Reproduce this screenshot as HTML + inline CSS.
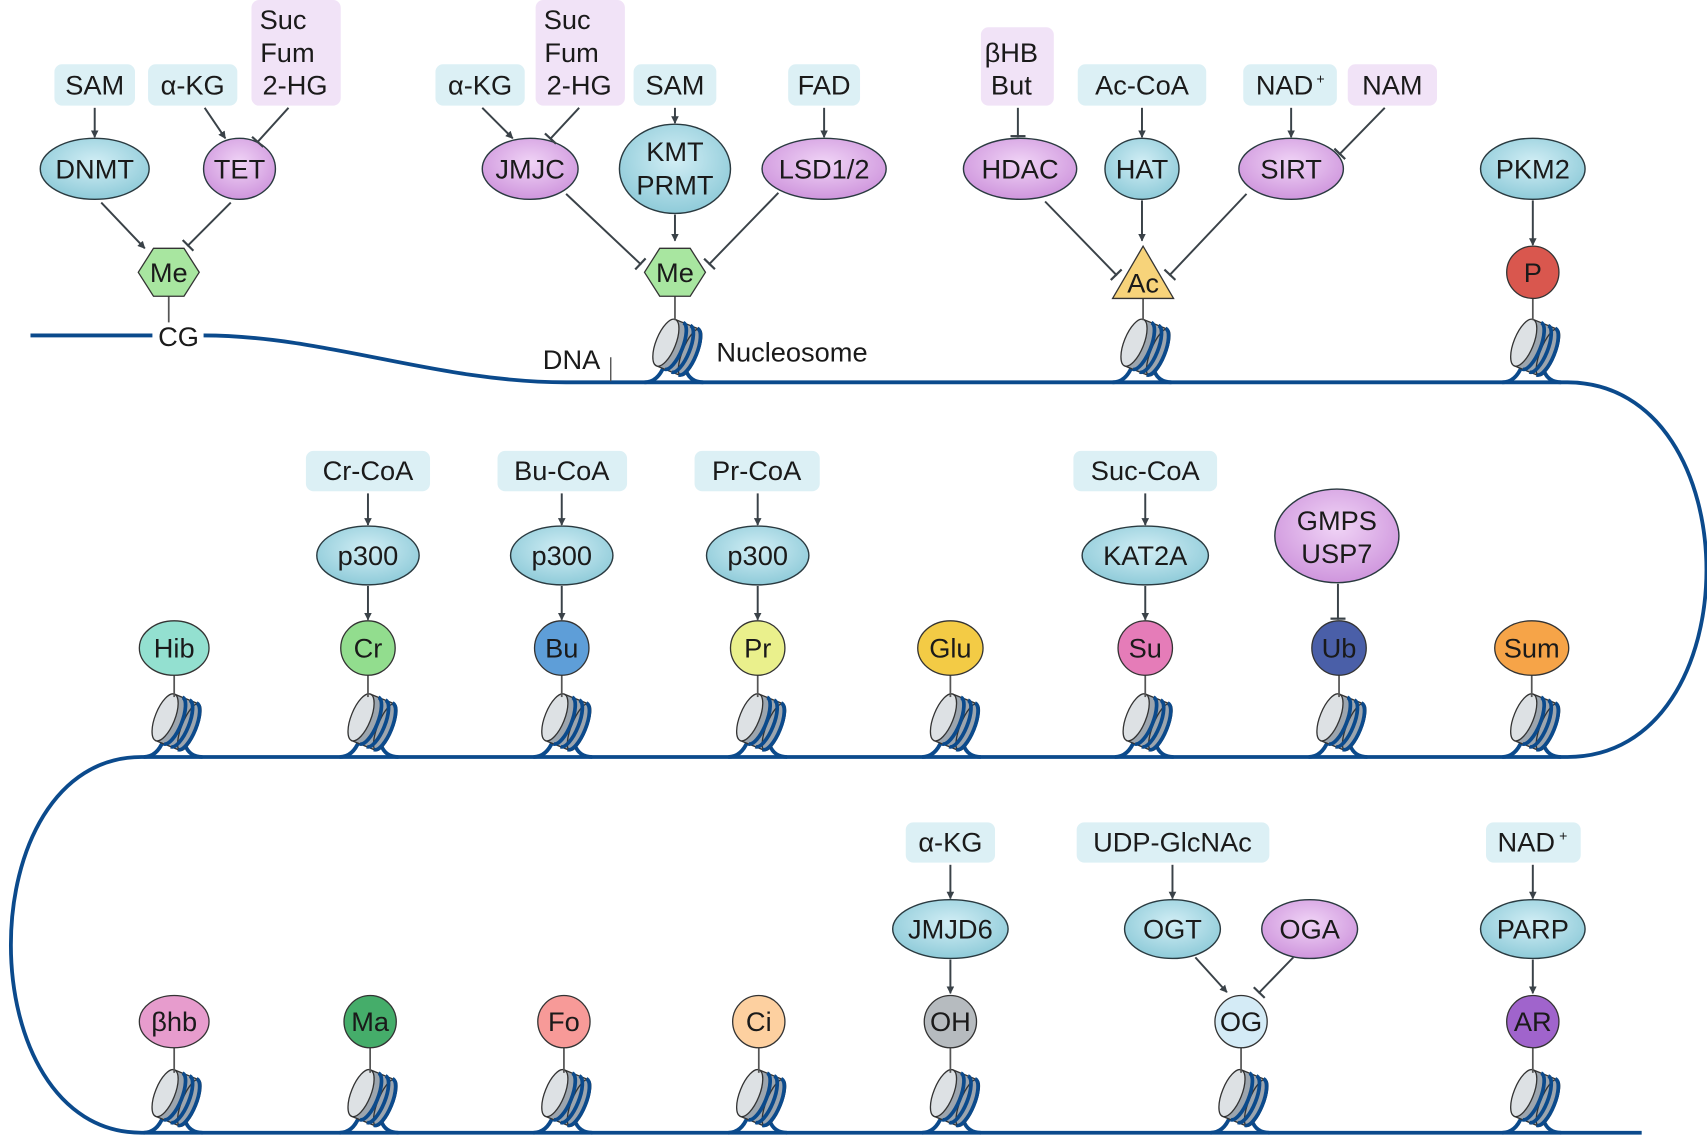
<!DOCTYPE html>
<html><head><meta charset="utf-8"><style>
html,body{margin:0;padding:0;background:#fff}
svg{display:block}
text{font-family:"Liberation Sans",sans-serif;font-size:25px;fill:#1a1a1a;text-anchor:middle;dominant-baseline:central}
.box{fill:#dcf0f5}
.pbox{fill:#f1e3f7}
.be{fill:url(#gb);stroke:#2a3a40;stroke-width:1.3}
.pe{fill:url(#gp);stroke:#2a3a40;stroke-width:1.3}
.ar{stroke:#3a4248;stroke-width:1.8;fill:none;marker-end:url(#arr)}
.in{stroke:#3a4248;stroke-width:1.8;fill:none;marker-end:url(#tee)}
.st{stroke:#555;stroke-width:1.6}
.dna{stroke:#0b4a8c;stroke-width:3.5;fill:none}
.mk{stroke:#333;stroke-width:1.2}
</style></head><body>
<svg width="1707" height="1136" viewBox="0 0 1568 1043" preserveAspectRatio="none" xmlns="http://www.w3.org/2000/svg">
<defs>
<radialGradient id="gb" cx="50%" cy="40%" r="60%"><stop offset="0" stop-color="#d2eef5"/><stop offset="1" stop-color="#8fcbd9"/></radialGradient>
<radialGradient id="gp" cx="50%" cy="40%" r="60%"><stop offset="0" stop-color="#f0d4f6"/><stop offset="1" stop-color="#cf96dd"/></radialGradient>
<marker id="arr" viewBox="0 0 10 10" refX="9" refY="5" markerWidth="7" markerHeight="7" orient="auto" markerUnits="userSpaceOnUse"><path d="M0,0 L10,5 L0,10 z" fill="#3a4248"/></marker>
<marker id="tee" viewBox="0 0 4 14" refX="3" refY="7" markerWidth="4" markerHeight="14" orient="auto" markerUnits="userSpaceOnUse"><path d="M2,0 V14" stroke="#3a4248" stroke-width="2"/></marker>
<g id="nuc">
 <path d="M-26,33 Q-14,33 -8,18" class="dna"/>
 <path d="M12,22 Q16,33 28,33" class="dna"/>
 <g transform="translate(2,0) rotate(22)">
  <rect x="-9" y="-23" width="24" height="46" fill="#9ca5ae" stroke="#333" stroke-width="1.2"/>
  <ellipse cx="15" cy="0" rx="7" ry="23" fill="#9ca5ae" stroke="#333" stroke-width="1.2"/>
  <path d="M-1,-23 A8,23 0 0 1 -1,23" stroke="#0b4a8c" stroke-width="3.4" fill="none"/>
  <path d="M6,-23 A8,23 0 0 1 6,23" stroke="#0b4a8c" stroke-width="3.4" fill="none"/>
  <path d="M13,-23 A8,23 0 0 1 13,23" stroke="#0b4a8c" stroke-width="3.4" fill="none"/>
  <ellipse cx="-9" cy="0" rx="9" ry="23" fill="#dde1e4" stroke="#333" stroke-width="1.2"/>
 </g>
</g>
</defs>

<!-- DNA -->
<path class="dna" d="M28,308 H140 M187,308 C300,308 400,351 520,351 H1440 C1610,352 1610,695 1440,695 H130 C-30,695 -30,1040 130,1040 H1508"/>
<text x="164" y="309">CG</text>
<text x="525" y="330">DNA</text>
<line x1="561" y1="328" x2="561" y2="350" stroke="#555" stroke-width="1.3"/>
<text x="658" y="323" style="text-anchor:start">Nucleosome</text>

<!-- nucleosomes -->
<use href="#nuc" x="618" y="318"/><use href="#nuc" x="1048" y="318"/><use href="#nuc" x="1406" y="318"/>
<use href="#nuc" x="158" y="662"/><use href="#nuc" x="338" y="662"/><use href="#nuc" x="516" y="662"/><use href="#nuc" x="695" y="662"/><use href="#nuc" x="873" y="662"/><use href="#nuc" x="1050" y="662"/><use href="#nuc" x="1228" y="662"/><use href="#nuc" x="1406" y="662"/>
<use href="#nuc" x="158" y="1007"/><use href="#nuc" x="338" y="1007"/><use href="#nuc" x="516" y="1007"/><use href="#nuc" x="695" y="1007"/><use href="#nuc" x="873" y="1007"/><use href="#nuc" x="1138" y="1007"/><use href="#nuc" x="1406" y="1007"/>

<!-- stems -->
<g class="st">
<line x1="155" y1="272" x2="155" y2="296"/>
<line x1="620" y1="272" x2="620" y2="294"/>
<line x1="1050" y1="274" x2="1050" y2="294"/>
<line x1="1408" y1="273" x2="1408" y2="294"/>
<line x1="160" y1="620" x2="160" y2="640"/><line x1="338" y1="618" x2="338" y2="640"/><line x1="516" y1="618" x2="516" y2="640"/><line x1="696" y1="618" x2="696" y2="640"/><line x1="873" y1="618" x2="873" y2="640"/><line x1="1052" y1="618" x2="1052" y2="640"/><line x1="1230" y1="618" x2="1230" y2="640"/><line x1="1407" y1="618" x2="1407" y2="640"/>
<line x1="160" y1="962" x2="160" y2="985"/><line x1="340" y1="961" x2="340" y2="985"/><line x1="518" y1="961" x2="518" y2="985"/><line x1="697" y1="961" x2="697" y2="985"/><line x1="873" y1="961" x2="873" y2="985"/><line x1="1140" y1="961" x2="1140" y2="985"/><line x1="1408" y1="961" x2="1408" y2="985"/>
</g>

<!-- Row1 boxes -->
<rect class="box" x="50" y="59" width="74" height="38" rx="7"/><text x="87" y="78">SAM</text>
<rect class="box" x="136" y="59" width="82" height="38" rx="7"/><text x="177" y="78">α-KG</text>
<rect class="pbox" x="231" y="0" width="82" height="97" rx="7"/><text x="260" y="18">Suc</text><text x="264" y="48">Fum</text><text x="271" y="78">2-HG</text>
<rect class="box" x="400" y="59" width="82" height="38" rx="7"/><text x="441" y="78">α-KG</text>
<rect class="pbox" x="492" y="0" width="82" height="97" rx="7"/><text x="521" y="18">Suc</text><text x="525" y="48">Fum</text><text x="532" y="78">2-HG</text>
<rect class="box" x="582" y="59" width="76" height="38" rx="7"/><text x="620" y="78">SAM</text>
<rect class="box" x="724" y="59" width="66" height="38" rx="7"/><text x="757" y="78">FAD</text>
<rect class="pbox" x="901" y="25" width="67" height="72" rx="7"/><text x="929" y="48">βHB</text><text x="929" y="78">But</text>
<rect class="box" x="990" y="59" width="118" height="38" rx="7"/><text x="1049" y="78">Ac-CoA</text>
<rect class="box" x="1142" y="59" width="86" height="38" rx="7"/><text x="1180" y="78">NAD</text><text x="1213" y="72" style="font-size:13px">+</text>
<rect class="pbox" x="1238" y="59" width="82" height="38" rx="7"/><text x="1279" y="78">NAM</text>

<!-- Row1 enzymes -->
<ellipse class="be" cx="87" cy="155" rx="50" ry="28"/><text x="87" y="155">DNMT</text>
<ellipse class="pe" cx="220" cy="155" rx="33" ry="28"/><text x="220" y="155">TET</text>
<ellipse class="pe" cx="487" cy="155" rx="44" ry="28"/><text x="487" y="155">JMJC</text>
<ellipse class="be" cx="620" cy="155" rx="51" ry="41"/><text x="620" y="139">KMT</text><text x="620" y="170">PRMT</text>
<ellipse class="pe" cx="757" cy="155" rx="57" ry="28"/><text x="757" y="155">LSD1/2</text>
<ellipse class="pe" cx="937" cy="155" rx="52" ry="28"/><text x="937" y="155">HDAC</text>
<ellipse class="be" cx="1049" cy="155" rx="34" ry="28"/><text x="1049" y="155">HAT</text>
<ellipse class="pe" cx="1186" cy="155" rx="48" ry="28"/><text x="1186" y="155">SIRT</text>
<ellipse class="be" cx="1408" cy="155" rx="48" ry="28"/><text x="1408" y="155">PKM2</text>

<!-- Row1 marks -->
<polygon points="127,250 141,228 169,228 183,250 169,272 141,272" fill="#a8e6a0" stroke="#333" stroke-width="1.2"/><text x="155" y="250">Me</text>
<polygon points="592,250 606,228 634,228 648,250 634,272 606,272" fill="#a8e6a0" stroke="#333" stroke-width="1.2"/><text x="620" y="250">Me</text>
<polygon points="1050,226 1078,274 1022,274" fill="#f7d37a" stroke="#333" stroke-width="1.2"/><text x="1050" y="260">Ac</text>
<circle cx="1408" cy="250" r="24" fill="#d9574e" stroke="#333" stroke-width="1.2"/><text x="1408" y="250">P</text>

<!-- Row1 connectors -->
<line class="ar" x1="87" y1="99" x2="87" y2="126"/>
<line class="ar" x1="188" y1="99" x2="207" y2="127"/>
<line class="in" x1="265" y1="99" x2="236" y2="131"/>
<line class="ar" x1="93" y1="186" x2="133" y2="228"/>
<line class="in" x1="212" y1="186" x2="172" y2="226"/>
<line class="ar" x1="443" y1="99" x2="471" y2="127"/>
<line class="in" x1="532" y1="99" x2="505" y2="128"/>
<line class="ar" x1="620" y1="99" x2="620" y2="113"/>
<line class="ar" x1="757" y1="99" x2="757" y2="126"/>
<line class="in" x1="520" y1="178" x2="589" y2="243"/>
<line class="ar" x1="620" y1="197" x2="620" y2="221"/>
<line class="in" x1="715" y1="177" x2="651" y2="243"/>
<line class="in" x1="935" y1="99" x2="935" y2="126"/>
<line class="ar" x1="1049" y1="99" x2="1049" y2="126"/>
<line class="ar" x1="1186" y1="99" x2="1186" y2="126"/>
<line class="in" x1="1272" y1="99" x2="1230" y2="142"/>
<line class="in" x1="960" y1="185" x2="1026" y2="253"/>
<line class="ar" x1="1049" y1="184" x2="1049" y2="221"/>
<line class="in" x1="1145" y1="178" x2="1074" y2="253"/>
<line class="ar" x1="1408" y1="184" x2="1408" y2="225"/>

<!-- Row2 -->
<rect class="box" x="281" y="414" width="114" height="37" rx="7"/><text x="338" y="432">Cr-CoA</text>
<rect class="box" x="457" y="414" width="119" height="37" rx="7"/><text x="516" y="432">Bu-CoA</text>
<rect class="box" x="638" y="414" width="115" height="37" rx="7"/><text x="695" y="432">Pr-CoA</text>
<rect class="box" x="986" y="414" width="132" height="37" rx="7"/><text x="1052" y="432">Suc-CoA</text>
<ellipse class="be" cx="338" cy="510" rx="47" ry="27"/><text x="338" y="510">p300</text>
<ellipse class="be" cx="516" cy="510" rx="47" ry="27"/><text x="516" y="510">p300</text>
<ellipse class="be" cx="696" cy="510" rx="47" ry="27"/><text x="696" y="510">p300</text>
<ellipse class="be" cx="1052" cy="510" rx="58" ry="27"/><text x="1052" y="510">KAT2A</text>
<ellipse class="pe" cx="1228" cy="492" rx="57" ry="43"/><text x="1228" y="478">GMPS</text><text x="1228" y="508">USP7</text>
<line class="ar" x1="338" y1="453" x2="338" y2="482"/><line class="ar" x1="338" y1="538" x2="338" y2="569"/>
<line class="ar" x1="516" y1="453" x2="516" y2="482"/><line class="ar" x1="516" y1="538" x2="516" y2="569"/>
<line class="ar" x1="696" y1="453" x2="696" y2="482"/><line class="ar" x1="696" y1="538" x2="696" y2="569"/>
<line class="ar" x1="1052" y1="453" x2="1052" y2="482"/><line class="ar" x1="1052" y1="538" x2="1052" y2="569"/>
<line class="in" x1="1229" y1="536" x2="1229" y2="569"/>
<ellipse class="mk" cx="160" cy="595" rx="32" ry="25" fill="#93e0d0"/><text x="160" y="595">Hib</text>
<circle class="mk" cx="338" cy="595" r="25" fill="#92dd8e"/><text x="338" y="595">Cr</text>
<circle class="mk" cx="516" cy="595" r="25" fill="#5e9ed8"/><text x="516" y="595">Bu</text>
<circle class="mk" cx="696" cy="595" r="25" fill="#eaf08c"/><text x="696" y="595">Pr</text>
<ellipse class="mk" cx="873" cy="595" rx="30" ry="25" fill="#f3cb45"/><text x="873" y="595">Glu</text>
<circle class="mk" cx="1052" cy="595" r="25" fill="#e57cb8"/><text x="1052" y="595">Su</text>
<circle class="mk" cx="1230" cy="595" r="25" fill="#4a5fa8"/><text x="1230" y="595">Ub</text>
<ellipse class="mk" cx="1407" cy="595" rx="34" ry="25" fill="#f6a448"/><text x="1407" y="595">Sum</text>

<!-- Row3 -->
<rect class="box" x="832" y="755" width="82" height="37" rx="7"/><text x="873" y="773">α-KG</text>
<rect class="box" x="989" y="755" width="177" height="37" rx="7"/><text x="1077" y="773">UDP-GlcNAc</text>
<rect class="box" x="1365" y="755" width="87" height="37" rx="7"/><text x="1402" y="773">NAD</text><text x="1436" y="767" style="font-size:13px">+</text>
<ellipse class="be" cx="873" cy="853" rx="53" ry="27"/><text x="873" y="853">JMJD6</text>
<ellipse class="be" cx="1077" cy="853" rx="44" ry="27"/><text x="1077" y="853">OGT</text>
<ellipse class="pe" cx="1203" cy="853" rx="44" ry="27"/><text x="1203" y="853">OGA</text>
<ellipse class="be" cx="1408" cy="853" rx="48" ry="27"/><text x="1408" y="853">PARP</text>
<line class="ar" x1="873" y1="794" x2="873" y2="825"/><line class="ar" x1="873" y1="881" x2="873" y2="912"/>
<line class="ar" x1="1077" y1="794" x2="1077" y2="825"/>
<line class="ar" x1="1098" y1="879" x2="1127" y2="911"/>
<line class="in" x1="1188" y1="879" x2="1156" y2="912"/>
<line class="ar" x1="1408" y1="794" x2="1408" y2="825"/><line class="ar" x1="1408" y1="881" x2="1408" y2="912"/>
<ellipse class="mk" cx="160" cy="938" rx="32" ry="24" fill="#e79ccd"/><text x="160" y="938">βhb</text>
<circle class="mk" cx="340" cy="938" r="24" fill="#45ad6a"/><text x="340" y="938">Ma</text>
<circle class="mk" cx="518" cy="938" r="24" fill="#f79a98"/><text x="518" y="938">Fo</text>
<circle class="mk" cx="697" cy="938" r="24" fill="#fdd0a0"/><text x="697" y="938">Ci</text>
<circle class="mk" cx="873" cy="938" r="24" fill="#b6bbbf"/><text x="873" y="938">OH</text>
<circle class="mk" cx="1140" cy="938" r="24" fill="#d4ebf6"/><text x="1140" y="938">OG</text>
<circle class="mk" cx="1408" cy="938" r="24" fill="#a064cc"/><text x="1408" y="938">AR</text>
</svg>
</body></html>
